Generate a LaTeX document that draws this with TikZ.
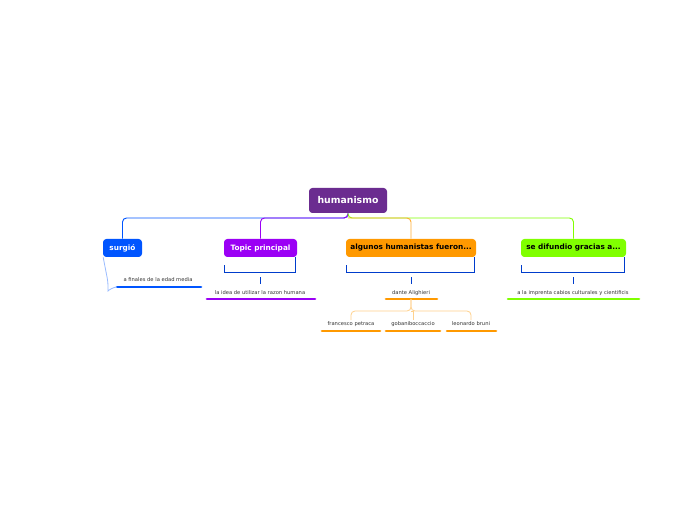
\documentclass[tikz,border=0pt]{standalone}
\usepackage{fontspec}
\setmainfont{DejaVu Sans}
\begin{document}
\begin{tikzpicture}[x=0.75pt,y=-0.75pt,
 box/.style={rounded corners=2.5pt,inner sep=0pt,font=\bfseries\fontsize{5.5}{6}\selectfont},
 small/.style={font=\fontsize{3.9}{4.5}\selectfont,inner sep=0pt,text=black!80},
 conn/.style={line width=0.7pt,rounded corners=3pt},
 ul/.style={line width=2pt,line cap=round},
 brk/.style={draw=blue!70!cyan!80!black,line width=0.7pt}]
\definecolor{hum}{HTML}{6B2C90}
\definecolor{sbl}{HTML}{0055FF}
\definecolor{tpc}{HTML}{9B00F5}
\definecolor{org}{HTML}{FF9900}
\definecolor{grn}{HTML}{80FF00}
\fill[white] (0,0) rectangle (696,520);
\node[box,fill=hum,text=white,minimum width=58.5pt,minimum height=18.75pt,font=\bfseries\fontsize{7}{8}\selectfont] (h) at (348,200.5) {humanismo};
\node[box,fill=sbl,text=white,minimum width=29.25pt,minimum height=13.5pt] (s) at (122.5,248) {surgió};
\node[box,fill=tpc,text=white,minimum width=54.75pt,minimum height=13.5pt] (t) at (260.5,248) {Topic principal};
\node[box,fill=org,text=black,minimum width=97.5pt,minimum height=13.5pt] (a) at (411,248) {algunos humanistas fueron...};
\node[box,fill=grn,text=black,minimum width=78.75pt,minimum height=13.5pt] (g) at (573.5,248) {se difundio gracias a...};
\draw[conn,sbl] (h.south) -- (348,218) -- (122.5,218) -- (s.north);
\draw[conn,tpc] (h.south) -- (348,218) -- (260.5,218) -- (t.north);
\draw[conn,grn] (h.south) -- (348,218) -- (573.5,218) -- (g.north);
\draw[conn,org!80] (348,218) -- (411,218) -- (a.north);
% brackets
\foreach \n in {t,a,g}{
 \draw[brk] (\n.south west) ++(1,8) -- ++(0,7) -| ([xshift=-1]\n.south east) ++(0,8);
 \draw[brk] ([yshift=-15]\n.south) -- ++(0,7);
}
% subtopics
\node[small] (s1) at (158,280) {a finales de la edad media};
\draw[ul,sbl] (117,287) coordinate (s1l) -- (201,287);
\draw[conn,sbl!40,line width=0.6pt] ([xshift=-14.5]s.south) -- (108,282) -- (108,287) to[out=-90,in=180] (s1l);
\node[small] (t1) at (260,293) {la idea de utilizar la razon humana};
\draw[ul,tpc] (207,299) -- (315,299);
\node[small] (a1) at (411,293) {dante Alighieri};
\draw[ul,org] (386,299) -- (437,299);
\node[small] (g1) at (573,293) {a la imprenta cabios culturales y cientificis};
\draw[ul,grn] (508,299) -- (639,299);
\draw[conn,org!45,line width=0.6pt] (411,299) -- (411,311) -- (351,311) -- (351,320);
\draw[conn,org!45,line width=0.6pt] (411,299) -- (411,311) -- (471,311) -- (471,320);
\draw[org!45,line width=0.6pt] (411,311) -- (413,311) -- (413,320);
\node[small] (b1) at (351,324) {francesco petraca};
\node[small] (b2) at (413,324) {gobaniboccaccio};
\node[small] (b3) at (471,324) {leonardo bruni};
\draw[ul,org] (322,331) -- (380,331);
\draw[ul,org] (386,331) -- (440,331);
\draw[ul,org] (447,331) -- (496,331);
\end{tikzpicture}
\end{document}
